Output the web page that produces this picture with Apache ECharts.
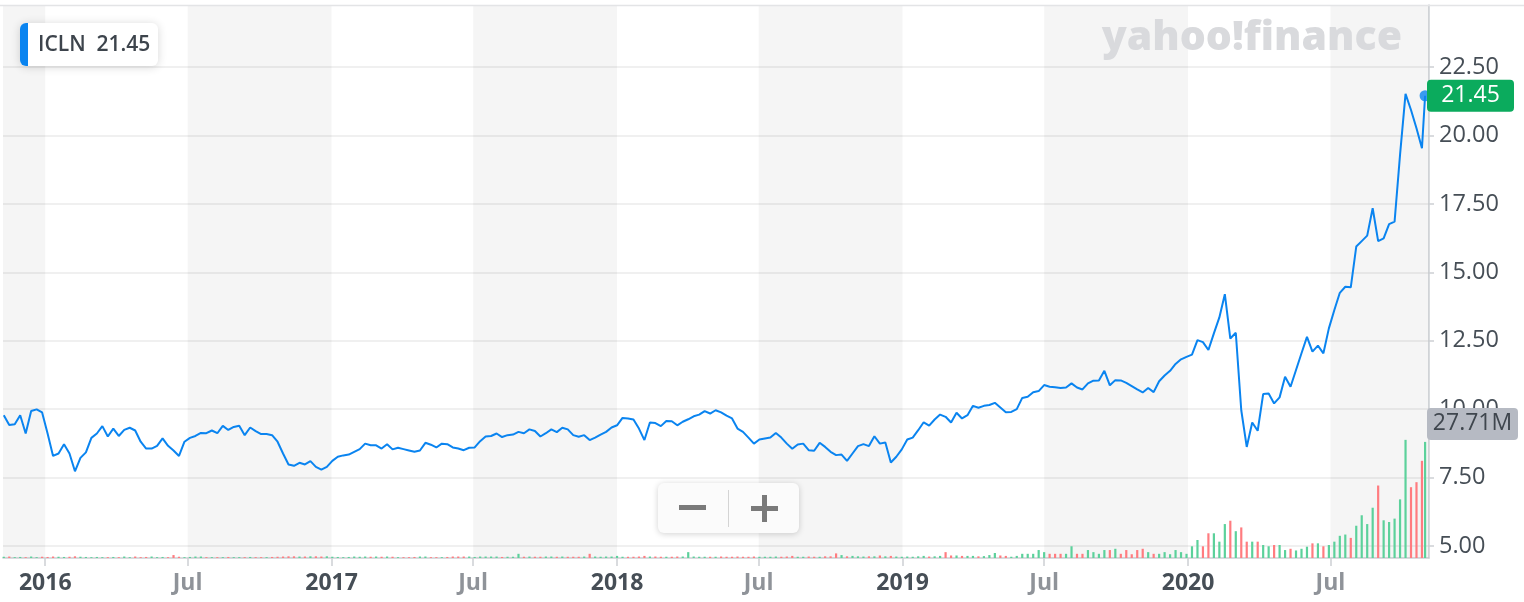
<!DOCTYPE html>
<html><head><meta charset="utf-8">
<script src="https://cdn.jsdelivr.net/npm/echarts@6/dist/echarts.min.js"></script>
<style>html,body{margin:0;padding:0;background:#fff}#chart{width:1524px;height:602px}</style>
</head><body><div id="chart"></div>
<script>
// ---- data ----
const symbol = 'ICLN';
const firstWeek = [2015, 11, 9];   // weekly closes start (Monday)
const lastQuoteDay = [2020, 10, 30]; // final (current) point
const axisStartDay = [2015, 11, 8];
const axisEndDay = [2020, 11, 4];
const tickDays = [[2016,1,1],[2016,7,1],[2017,1,1],[2017,7,1],[2018,1,1],[2018,7,1],[2019,1,1],[2019,7,1],[2020,1,1],[2020,7,1]];
const priceTicks = [5, 7.5, 10, 12.5, 15, 17.5, 20, 22.5];
const closes = [
 9.78,9.42,9.45,9.78,9.11,9.93,9.99,9.88,9.11,8.29,
 8.38,8.72,8.38,7.73,8.22,8.42,8.95,9.11,9.38,9.00,
 9.29,9.02,9.24,9.32,9.22,8.81,8.56,8.56,8.66,8.93,
 8.66,8.49,8.29,8.81,8.95,9.02,9.13,9.12,9.22,9.12,
 9.39,9.24,9.35,9.39,9.05,9.33,9.20,9.09,9.09,9.05,
 8.81,8.38,7.98,7.93,8.04,7.98,8.10,7.89,7.79,7.89,
 8.11,8.26,8.31,8.34,8.44,8.54,8.74,8.68,8.68,8.56,
 8.72,8.53,8.59,8.54,8.49,8.44,8.49,8.77,8.70,8.60,
 8.74,8.72,8.60,8.56,8.50,8.59,8.60,8.83,9.00,9.02,
 9.11,8.98,9.05,9.07,9.17,9.12,9.26,9.20,9.00,9.12,
 9.26,9.16,9.32,9.26,9.05,8.99,9.05,8.87,8.96,9.07,
 9.17,9.33,9.41,9.68,9.66,9.62,9.29,8.87,9.51,9.49,
 9.38,9.57,9.56,9.41,9.54,9.63,9.74,9.80,9.93,9.84,
 9.96,9.88,9.76,9.66,9.29,9.17,8.96,8.74,8.89,8.93,
 8.96,9.13,8.96,8.74,8.55,8.71,8.74,8.50,8.48,8.77,
 8.62,8.44,8.32,8.34,8.11,8.38,8.65,8.72,8.65,9.01,
 8.74,8.78,8.05,8.26,8.53,8.89,8.96,9.23,9.52,9.40,
 9.62,9.80,9.72,9.51,9.87,9.66,9.78,10.12,10.05,10.12,
 10.15,10.23,10.06,9.89,9.90,10.00,10.41,10.45,10.62,10.66,
 10.88,10.82,10.80,10.77,10.79,10.94,10.79,10.72,10.94,11.04,
 11.05,11.40,10.87,11.06,11.05,10.96,10.84,10.72,10.61,10.77,
 10.62,11.02,11.23,11.40,11.65,11.82,11.91,11.99,12.52,12.45,
 12.16,12.77,13.35,14.20,12.58,12.79,9.96,8.62,9.51,9.21,
 10.55,10.57,10.21,10.43,11.18,10.82,11.43,12.04,12.64,12.10,
 12.32,12.04,12.95,13.62,14.25,14.47,14.45,15.94,16.14,16.34,
 17.34,16.14,16.24,16.76,16.85,19.30,21.52,20.93,20.26,19.53,
 21.45
];
const volumesM = [
 0.3,0.35,0.2,0.25,0.2,0.35,0.2,0.3,0.25,0.35,0.3,0.25,0.3,0.4,0.3,0.25,0.2,0.25,0.2,0.2,
 0.25,0.2,0.35,0.2,0.35,0.2,0.25,0.35,0.2,0.25,0.2,0.7,0.3,0.2,0.25,0.35,0.35,0.2,0.2,0.2,
 0.2,0.25,0.2,0.2,0.2,0.25,0.2,0.2,0.2,0.25,0.3,0.35,0.4,0.4,0.35,0.35,0.4,0.4,0.35,0.4,
 0.3,0.25,0.2,0.25,0.35,0.3,0.35,0.3,0.35,0.3,0.35,0.3,0.2,0.2,0.2,0.25,0.35,0.35,0.2,0.2,
 0.2,0.25,0.35,0.35,0.35,0.35,0.25,0.35,0.35,0.35,0.35,0.25,0.3,0.3,1.0,0.3,0.35,0.3,0.3,0.35,
 0.35,0.3,0.35,0.3,0.3,0.3,0.35,1.0,0.35,0.3,0.35,0.35,0.5,0.3,0.3,0.3,0.35,0.5,0.35,0.35,
 0.3,0.3,0.3,0.35,0.35,1.4,0.35,0.3,0.3,0.3,0.3,0.35,0.3,0.3,0.35,0.3,0.3,0.35,0.3,0.3,
 0.3,0.35,0.3,0.35,0.5,0.3,0.3,0.35,0.3,0.3,0.4,0.4,1.1,0.7,0.4,0.5,0.4,0.35,0.4,0.4,
 0.6,0.4,0.5,0.35,0.3,0.35,0.3,0.4,0.5,0.35,0.4,0.5,1.4,0.6,0.6,0.5,0.5,0.5,0.4,0.45,0.7,1.2,0.6,
 0.5,0.3,0.5,1.0,1.0,1.0,1.9,1.4,1.0,1.0,1.0,1.0,2.8,1.0,1.0,1.9,1.4,1.0,1.9,1.9,
 2.2,1.0,1.9,0.9,1.9,2.2,1.4,1.0,1.0,1.4,0.9,1.9,1.4,1.0,2.8,4.3,2.8,5.9,5.9,3.9,
 8.1,8.9,6.4,7.3,3.9,3.9,3.9,3.1,2.8,3.1,3.1,1.9,2.2,1.8,2.2,2.7,3.5,3.5,2.8,3.1,
 3.9,5.3,5.6,4.8,7.7,10.2,8.1,12.0,17.3,9.0,8.6,9.4,14.0,28.2,16.9,18.1,23.2,27.71
];

// ---- helpers ----
const ts = d => new Date(d[0], d[1] - 1, d[2]).getTime();
const times = closes.map((_, i) => i < closes.length - 1
  ? new Date(firstWeek[0], firstWeek[1] - 1, firstWeek[2] + 7 * i).getTime()
  : ts(lastQuoteDay));
const ticks = tickDays.map(ts);
const xMin = ts(axisStartDay), xMax = ts(axisEndDay);

// grey half-year bands (alternate)
const bandEdges = [xMin].concat(ticks, [xMax]);
const bands = [];
for (let k = 0; k < bandEdges.length - 1; k += 2) {
  bands.push([{ xAxis: bandEdges[k] }, { xAxis: bandEdges[k + 1] }]);
}

const UP = '#5cd19b', DOWN = '#ff7c80';
const FONT = '"Open Sans", "Noto Sans", sans-serif';
const AXIS_C = '#cdd0d4';

const chart = echarts.init(document.getElementById('chart'), null, { renderer: 'canvas' });

const option = {
  animation: false,
  backgroundColor: '#ffffff',
  grid: [
    { left: 3, right: 95, top: 67, bottom: 56 },   // price
    { left: 3, right: 95, top: 5, bottom: 44 }     // volume / frame
  ],
  xAxis: [
    { type: 'value', gridIndex: 0, min: xMin, max: xMax, show: false, splitLine: { show: false } },
    {
      type: 'value', gridIndex: 1, min: xMin, max: xMax,
      axisLine: { show: true, lineStyle: { color: AXIS_C, width: 1.5 } },
      axisTick: { show: true, customValues: ticks, length: 8, lineStyle: { color: AXIS_C, width: 1.5 } },
      axisLabel: {
        customValues: ticks, margin: 14, fontFamily: FONT,
        formatter: v => {
          const d = new Date(v);
          return d.getMonth() === 0 ? '{y|' + d.getFullYear() + '}' : '{m|Jul}';
        },
        rich: {
          y: { fontSize: 23, fontWeight: 700, color: '#464e56', fontFamily: FONT },
          m: { fontSize: 23, fontWeight: 700, color: '#8f9399', fontFamily: FONT }
        }
      },
      splitLine: { show: false }
    }
  ],
  yAxis: [
    {
      type: 'value', gridIndex: 0, position: 'right', min: 5, max: 22.5, interval: 2.5,
      axisLine: { show: false },
      axisTick: { show: true, length: 5, lineStyle: { color: AXIS_C, width: 1.5 } },
      axisLabel: { margin: 10, fontSize: 23.5, color: '#464e56', fontFamily: FONT, formatter: v => v.toFixed(2) },
      splitLine: { show: true, lineStyle: { color: '#ebebeb', width: 1.5 } }
    },
    {
      type: 'value', gridIndex: 1, position: 'right', min: 0, max: 132,
      axisLine: { show: true, lineStyle: { color: AXIS_C, width: 1.5 } },
      axisTick: { show: false }, axisLabel: { show: false }, splitLine: { show: false }
    }
  ],
  series: [
    {
      type: 'bar', xAxisIndex: 1, yAxisIndex: 1, barWidth: 2.2, silent: true,
      data: times.map((t, i) => [t, volumesM[i]]),
      itemStyle: {
        color: p => (p.dataIndex === 0 || closes[p.dataIndex] >= closes[p.dataIndex - 1]) ? UP : DOWN
      },
      markArea: {
        silent: true,
        itemStyle: { color: 'rgba(0,0,0,0.04)' },
        data: bands
      },
      z: 2
    },
    {
      type: 'line', xAxisIndex: 0, yAxisIndex: 0, showSymbol: false, silent: true,
      data: times.map((t, i) => [t, closes[i]]),
      lineStyle: { color: '#0a84f0', width: 2 },
      z: 4
    },
    {
      type: 'scatter', xAxisIndex: 0, yAxisIndex: 0, silent: true, symbolSize: 11,
      data: [[times[times.length - 1], closes[closes.length - 1]]],
      itemStyle: { color: '#0a84f0' },
      z: 5
    }
  ]
};
chart.setOption(option);

const lastClose = closes[closes.length - 1];
const lastVol = volumesM[volumesM.length - 1];
const pY = chart.convertToPixel({ yAxisIndex: 0 }, lastClose);
const vY = chart.convertToPixel({ yAxisIndex: 1 }, lastVol);

chart.setOption({
  graphic: [
    { type: 'line', z: 50, shape: { x1: 0, y1: 5.5, x2: 1524, y2: 5.5 }, style: { stroke: '#e3e4e6', lineWidth: 1.5 } },
    { type: 'text', z: 50, x: 1402, y: 38, style: { text: 'yahoo!finance', fill: '#d9dadd', font: '800 41px ' + FONT, align: 'right', verticalAlign: 'middle' } },
    { type: 'rect', z: 60, x: 20, y: 23, shape: { width: 138, height: 43, r: 6 },
      style: { fill: '#ffffff', shadowBlur: 10, shadowColor: 'rgba(0,0,0,0.16)', shadowOffsetY: 1 } },
    { type: 'rect', z: 61, x: 20, y: 23, shape: { width: 8, height: 43, r: [6, 0, 0, 6] }, style: { fill: '#0a84f0' } },
    { type: 'text', z: 62, x: 38, y: 45.5, style: { text: symbol + '  ' + lastClose.toFixed(2), fill: '#3d444c', font: '600 21px ' + FONT, verticalAlign: 'middle' } },
    { type: 'rect', z: 70, x: 1427, y: pY - 16, shape: { width: 87, height: 32, r: 4 }, style: { fill: '#0bab5d' } },
    { type: 'text', z: 71, x: 1470.5, y: pY, style: { text: lastClose.toFixed(2), fill: '#ffffff', font: '23px ' + FONT, align: 'center', verticalAlign: 'middle' } },
    { type: 'rect', z: 70, x: 1427, y: vY - 34, shape: { width: 91, height: 32, r: 4 }, style: { fill: '#b6bac3' } },
    { type: 'text', z: 71, x: 1472.5, y: vY - 18, style: { text: lastVol.toFixed(2) + 'M', fill: '#3f464e', font: '23px ' + FONT, align: 'center', verticalAlign: 'middle' } },
    { type: 'rect', z: 60, x: 658, y: 483, shape: { width: 141, height: 50, r: 6 },
      style: { fill: '#fbfbfb', shadowBlur: 6, shadowColor: 'rgba(0,0,0,0.18)', shadowOffsetY: 1 } },
    { type: 'line', z: 61, shape: { x1: 728.5, y1: 490, x2: 728.5, y2: 527 }, style: { stroke: '#d4d4d4', lineWidth: 1 } },
    { type: 'rect', z: 61, x: 679, y: 505, shape: { width: 27, height: 5 }, style: { fill: '#7a7a7a' } },
    { type: 'rect', z: 61, x: 751, y: 506, shape: { width: 27, height: 5 }, style: { fill: '#7a7a7a' } },
    { type: 'rect', z: 61, x: 762, y: 495, shape: { width: 5, height: 27 }, style: { fill: '#7a7a7a' } }
  ]
});
</script>
</body></html>
